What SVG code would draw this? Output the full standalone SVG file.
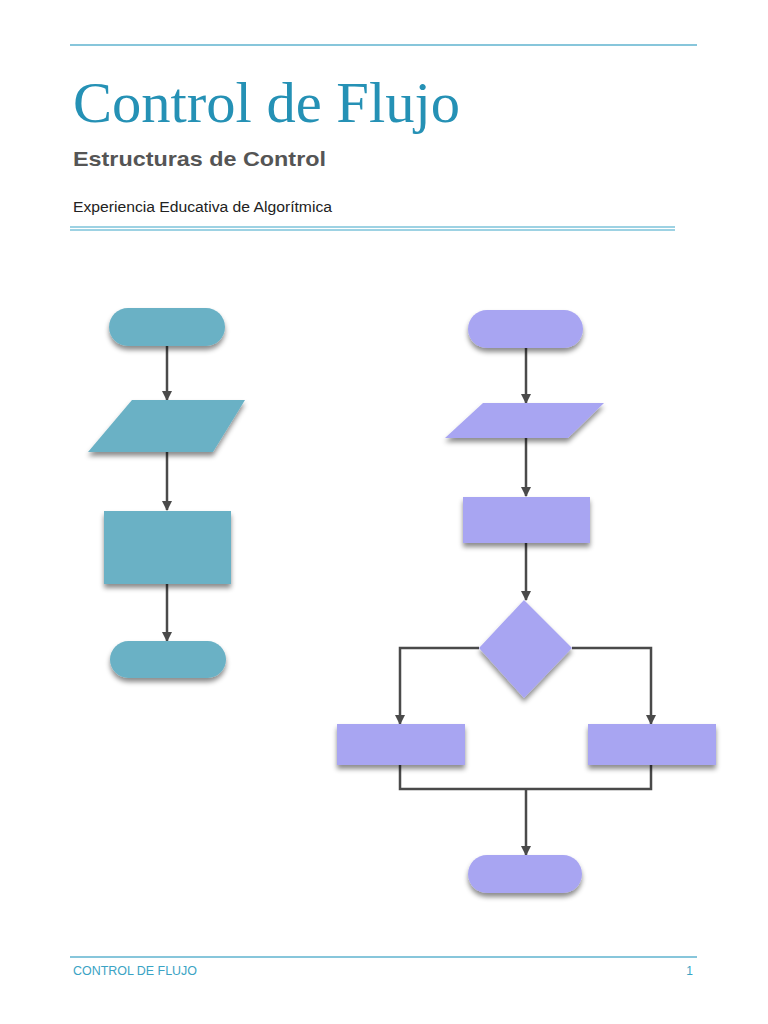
<svg xmlns="http://www.w3.org/2000/svg" width="768" height="1024" viewBox="0 0 768 1024">
<defs>
<filter id="sh" x="-20%" y="-20%" width="140%" height="160%">
<feDropShadow dx="0" dy="4" stdDeviation="2.5" flood-color="#000" flood-opacity="0.45"/>
</filter>
<marker id="ah" viewBox="0 0 10 10" refX="9" refY="5" markerWidth="4" markerHeight="4" orient="auto" markerUnits="strokeWidth">
<path d="M0,0 L10,5 L0,10 z" fill="#4a4a4a"/>
</marker>
<style>
.teal{fill:#6ab1c5;filter:url(#sh)}
.lav{fill:#a8a5f2;filter:url(#sh)}
.con{fill:none;stroke:#4a4a4a;stroke-width:2.5}
.arr{marker-end:url(#ah)}
.rule{stroke:#5fb3cf;stroke-width:1.5}
</style>
</defs>
<rect width="768" height="1024" fill="#fff"/>
<g id="header">
<line class="rule" x1="70" y1="45" x2="697" y2="45"/>
<text x="73" y="122" font-family="Liberation Serif, serif" font-size="57" fill="#2591b5" textLength="387" lengthAdjust="spacingAndGlyphs">Control de Flujo</text>
<text x="73" y="166" font-family="Liberation Sans, Arial, sans-serif" font-size="21" font-weight="bold" fill="#555" textLength="253" lengthAdjust="spacingAndGlyphs">Estructuras de Control</text>
<text x="73" y="212" font-family="Liberation Sans, Arial, sans-serif" font-size="14" fill="#222" textLength="259" lengthAdjust="spacingAndGlyphs">Experiencia Educativa de Algorítmica</text>
<line x1="70" y1="227" x2="675" y2="227" stroke="#7cc3da" stroke-width="1.5"/>
<line x1="70" y1="230" x2="675" y2="230" stroke="#7cc3da" stroke-width="1.5"/>
</g>
<g id="connectors">
<line class="con arr" x1="167" y1="346" x2="167" y2="400"/>
<line class="con arr" x1="167" y1="452" x2="167" y2="510"/>
<line class="con arr" x1="167" y1="584" x2="167" y2="641"/>
<line class="con arr" x1="526" y1="348" x2="526" y2="403"/>
<line class="con arr" x1="526" y1="438" x2="526" y2="496"/>
<line class="con arr" x1="526" y1="543" x2="526" y2="600"/>
<polyline class="con arr" points="479,648 400,648 400,724"/>
<polyline class="con arr" points="572,648 651,648 651,724"/>
<polyline class="con" points="400,765 400,789 651,789 651,765"/>
<line class="con arr" x1="526" y1="789" x2="526" y2="855"/>
</g>
<g id="left-start"><rect class="teal" x="109" y="308" width="116" height="38" rx="19"/></g>
<g id="left-input"><polygon class="teal" points="132,400 245,400 213,452 88,452"/></g>
<g id="left-process"><rect class="teal" x="104" y="511" width="127" height="73"/></g>
<g id="left-end"><rect class="teal" x="110" y="641" width="116" height="37" rx="18.5"/></g>
<g id="right-start"><rect class="lav" x="468" y="310" width="115" height="38" rx="19"/></g>
<g id="right-input"><polygon class="lav" points="483,403 604,403 568,438 445,438"/></g>
<g id="right-process"><rect class="lav" x="463" y="497" width="127" height="46"/></g>
<g id="right-decision"><polygon class="lav" points="524,600 572,648 524,698 479,648"/></g>
<g id="right-branch-left"><rect class="lav" x="337" y="724" width="128" height="41"/></g>
<g id="right-branch-right"><rect class="lav" x="588" y="724" width="128" height="41"/></g>
<g id="right-end"><rect class="lav" x="468" y="855" width="114" height="38" rx="19"/></g>
<g id="footer">
<line class="rule" x1="70" y1="957" x2="697" y2="957"/>
<text x="73" y="975" font-family="Liberation Sans, Arial, sans-serif" font-size="12" fill="#3aa3c4" textLength="124" lengthAdjust="spacingAndGlyphs">CONTROL DE FLUJO</text>
<text x="693" y="975" text-anchor="end" font-family="Liberation Sans, Arial, sans-serif" font-size="12" fill="#3aa3c4">1</text>
</g>
</svg>
